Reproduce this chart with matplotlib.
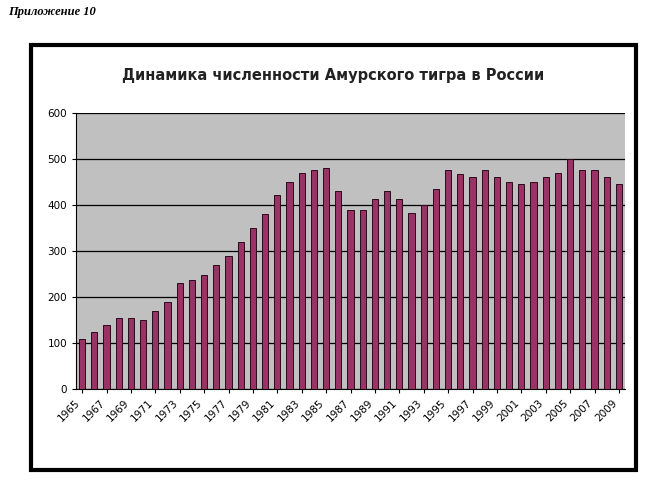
import matplotlib
matplotlib.use("Agg")
import matplotlib.pyplot as plt
from matplotlib.patches import Rectangle

years = list(range(1965, 2010))
values = [108,125,140,155,155,150,170,190,230,238,248,270,290,320,350,380,422,450,470,477,480,430,
          390,390,412,430,412,383,400,435,477,467,460,477,460,450,445,450,460,470,500,477,477,460,445]
tick_labels = [str(y) for y in years[::2]]

W, H = 659, 494
fig = plt.figure(figsize=(W/100, H/100), dpi=100)
fig.patch.set_facecolor("white")
fig.text(8/W, 1-12/H, "Приложение 10", family="Liberation Serif", style="italic",
         weight="bold", fontsize=9, va="center")
fig.patches.append(Rectangle((31/W, 1-470/H), 605/W, 425/H, transform=fig.transFigure,
                             fill=False, lw=3, ec="black"))
fig.text(333/W, 1-75/H, "Динамика численности Амурского тигра в России",
         fontsize=10.5, weight="bold", ha="center", va="center", color="#222222")

ax = fig.add_axes([76/W, 1-389/H, 549/W, 276/H])
ax.set_facecolor("#C0C0C0")
x = list(range(len(years)))
ax.bar(x, values, width=0.5, color="#993366", edgecolor="#2a0a1a", lw=0.7, zorder=3)
ax.set_xlim(-0.5, len(years)-0.5)
ax.set_ylim(0, 600)
ax.set_yticks(range(0, 601, 100))
ax.yaxis.grid(True, color="black", lw=0.9, zorder=0)
ax.set_xticks(x[::2])
ax.set_xticklabels(tick_labels, rotation=45, ha="right", fontsize=7.5)
ax.tick_params(axis="y", labelsize=7.5, length=3)
ax.tick_params(axis="x", length=3)
for s in ["top", "right"]:
    ax.spines[s].set_visible(False)
fig.savefig("out.png", dpi=100)
